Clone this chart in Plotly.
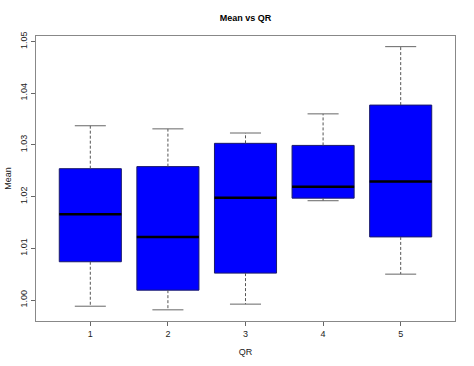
import plotly.graph_objects as go

categories = [1, 2, 3, 4, 5]
lower_whisker = [0.9988, 0.9981, 0.9992, 1.0192, 1.0050]
q1_values = [1.0074, 1.0019, 1.0052, 1.0197, 1.0122]
median_values = [1.0166, 1.0122, 1.0198, 1.0219, 1.0229]
q3_values = [1.0254, 1.0258, 1.0303, 1.0299, 1.0377]
upper_whisker = [1.0337, 1.0331, 1.0323, 1.0360, 1.0490]
y_ticks = [1.00, 1.01, 1.02, 1.03, 1.04, 1.05]

FONT = "Liberation Sans, Arial, Helvetica, sans-serif"
box_half = 0.4
cap_half = 0.2
W, H = 474, 366

fig = go.Figure()

fig.add_trace(go.Box(
    x=categories, q1=q1_values, median=median_values, q3=q3_values,
    lowerfence=q1_values, upperfence=q3_values,
    width=2 * box_half, fillcolor="#0000FF",
    line=dict(color="#1a1a6a", width=1), whiskerwidth=0,
    boxpoints=False, hoverinfo="skip", showlegend=False,
))

wx, wy = [], []
for c, lo, a, b, hi in zip(categories, lower_whisker, q1_values, q3_values, upper_whisker):
    wx += [c, c, None, c, c, None]
    wy += [b, hi, None, a, lo, None]
fig.add_trace(go.Scatter(x=wx, y=wy, mode="lines",
                         line=dict(color="#555555", width=1, dash="3px,2px"),
                         showlegend=False, hoverinfo="skip"))

cx, cy = [], []
for c, lo, hi in zip(categories, lower_whisker, upper_whisker):
    cx += [c - cap_half, c + cap_half, None, c - cap_half, c + cap_half, None]
    cy += [hi, hi, None, lo, lo, None]
fig.add_trace(go.Scatter(x=cx, y=cy, mode="lines",
                         line=dict(color="#666666", width=1),
                         showlegend=False, hoverinfo="skip"))

mx, my = [], []
for c, m in zip(categories, median_values):
    mx += [c - box_half, c + box_half, None]
    my += [m, m, None]
fig.add_trace(go.Scatter(x=mx, y=my, mode="lines",
                         line=dict(color="black", width=2.5),
                         showlegend=False, hoverinfo="skip"))

fig.update_layout(
    width=W, height=H,
    margin=dict(l=36, r=19, t=36, b=45),
    paper_bgcolor="white", plot_bgcolor="white",
    font=dict(family=FONT, size=9, color="#222222"),
    title=dict(text="<b>Mean vs QR</b>", xref="paper", x=0.5, xanchor="center",
               y=1 - 18 / H, yanchor="middle",
               font=dict(family=FONT, size=9, color="black")),
    xaxis=dict(range=[0.3, 5.7], tickmode="array", tickvals=categories,
               ticktext=[str(c) for c in categories], automargin=False,
               showgrid=False, zeroline=False, showline=True, mirror=True,
               linecolor="#888888", linewidth=1,
               ticks="outside", ticklen=4, tickcolor="#666666",
               title=dict(text="QR", standoff=10, font=dict(size=9))),
    yaxis=dict(range=[0.99594, 1.05106], tickmode="array", tickvals=y_ticks,
               ticktext=[f"{v:.2f}" for v in y_ticks], tickangle=-90,
               automargin=False,
               showgrid=False, zeroline=False, showline=True, mirror=True,
               linecolor="#888888", linewidth=1,
               ticks="outside", ticklen=4, tickcolor="#666666",
               title=dict(text="Mean", standoff=6, font=dict(size=9))),
)

fig.write_html("out.html", config={"displayModeBar": False},
               post_script="document.body.style.margin='0';")
